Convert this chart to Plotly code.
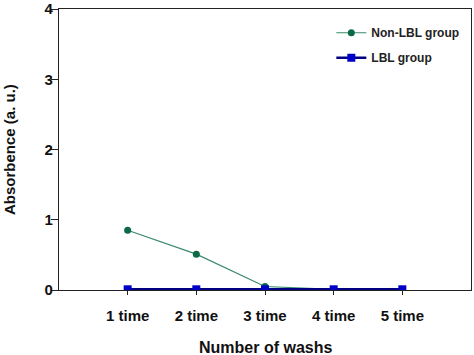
import plotly.graph_objects as go

categories = ["1 time", "2 time", "3 time", "4 time", "5 time"]
positions = [1, 2, 3, 4, 5]
non_lbl = [0.85, 0.51, 0.05, 0.01, 0.01]
lbl = [0.01, 0.01, 0.01, 0.01, 0.01]
y_ticks = [0, 1, 2, 3, 4]

FONT = "Liberation Sans, Arial, sans-serif"

fig = go.Figure()
fig.add_trace(go.Scatter(
    x=positions, y=non_lbl, name="Non-LBL group", mode="lines+markers",
    line=dict(color="#3a8a6a", width=1.2),
    marker=dict(symbol="circle", size=7, color="#0b6a45"),
    legendgroup="a",
))
fig.add_trace(go.Scatter(
    x=positions, y=lbl, name="LBL group", mode="lines+markers",
    line=dict(color="#000080", width=2.5),
    marker=dict(symbol="square", size=8, color="#0000c8"),
    legendgroup="b",
))

fig.update_layout(
    width=474, height=355,
    margin=dict(l=59, r=3, t=9, b=65),
    plot_bgcolor="white", paper_bgcolor="white",
    font=dict(family=FONT, color="#111"),
    showlegend=True,
    legend=dict(
        x=0.661, y=0.967, xanchor="left", yanchor="top",
        font=dict(family=FONT, size=12, color="#222", weight="bold"),
        bgcolor="rgba(0,0,0,0)", traceorder="grouped", tracegroupgap=6,
    ),
    xaxis=dict(
        range=[0, 6], tickmode="array", tickvals=positions, ticktext=categories,
        showgrid=False, zeroline=False, automargin=False,
        showline=True, linecolor="#222", linewidth=1.2, mirror=True,
        ticks="outside", ticklen=4, tickcolor="#222", ticklabelstandoff=8,
        tickfont=dict(family=FONT, size=15, color="#111", weight="bold"),
    ),
    yaxis=dict(
        range=[0, 4], tickmode="array", tickvals=y_ticks,
        showgrid=False, zeroline=False, automargin=False,
        showline=True, linecolor="#222", linewidth=1.2, mirror=True,
        ticks="outside", ticklen=7, tickcolor="#222", ticklabelstandoff=-5,
        tickfont=dict(family=FONT, size=15, color="#111", weight="bold"),
    ),
    annotations=[
        dict(text="Number of washs", xref="paper", yref="paper",
             x=0.5, y=-0.205, xanchor="center", yanchor="middle", showarrow=False,
             font=dict(family=FONT, size=16, color="#111", weight="bold")),
        dict(text="Absorbence (a. u.)", xref="paper", yref="paper",
             x=-0.12, y=0.5, xanchor="center", yanchor="middle", showarrow=False,
             textangle=-90,
             font=dict(family=FONT, size=15, color="#111", weight="bold")),
    ],
)

fig.write_html("out.html", config={"displayModeBar": False},
               post_script="document.body.style.margin='0';")
